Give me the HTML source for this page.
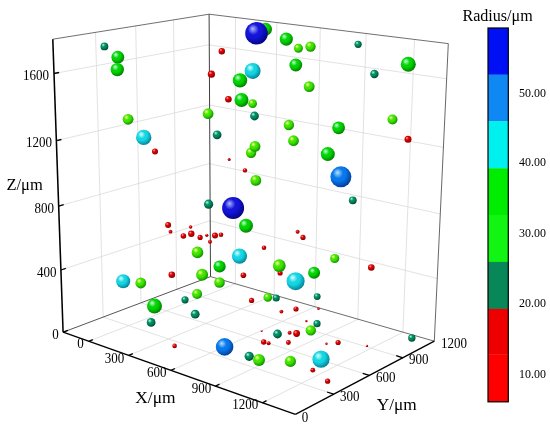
<!DOCTYPE html><html><head><meta charset="utf-8"><title>3D scatter</title>
<style>html,body{margin:0;padding:0;background:#fff}svg{display:block}text{font-family:"Liberation Serif","Times New Roman",serif;fill:#000}</style></head><body>
<svg width="550" height="427" viewBox="0 0 550 427">
<rect width="550" height="427" fill="#fff"/>
<defs>
<radialGradient id="gb" cx="0.42" cy="0.40" r="0.68" fx="0.33" fy="0.29"><stop offset="0" stop-color="#b0bcf8"/><stop offset="0.36" stop-color="#1414da"/><stop offset="0.52" stop-color="#1414da"/><stop offset="1" stop-color="#000070"/></radialGradient>
<radialGradient id="gm" cx="0.42" cy="0.40" r="0.68" fx="0.33" fy="0.29"><stop offset="0" stop-color="#b8e4ff"/><stop offset="0.36" stop-color="#0878ec"/><stop offset="0.52" stop-color="#0878ec"/><stop offset="1" stop-color="#003088"/></radialGradient>
<radialGradient id="gc" cx="0.42" cy="0.40" r="0.68" fx="0.33" fy="0.29"><stop offset="0" stop-color="#e0ffff"/><stop offset="0.36" stop-color="#14d6e2"/><stop offset="0.52" stop-color="#14d6e2"/><stop offset="1" stop-color="#007088"/></radialGradient>
<radialGradient id="gg" cx="0.42" cy="0.40" r="0.68" fx="0.33" fy="0.29"><stop offset="0" stop-color="#c8ffe0"/><stop offset="0.36" stop-color="#02d402"/><stop offset="0.52" stop-color="#02d402"/><stop offset="1" stop-color="#006c00"/></radialGradient>
<radialGradient id="gy" cx="0.42" cy="0.40" r="0.68" fx="0.33" fy="0.29"><stop offset="0" stop-color="#ffff90"/><stop offset="0.36" stop-color="#40e400"/><stop offset="0.52" stop-color="#40e400"/><stop offset="1" stop-color="#007c00"/></radialGradient>
<radialGradient id="gt" cx="0.42" cy="0.40" r="0.68" fx="0.33" fy="0.29"><stop offset="0" stop-color="#b0ffe0"/><stop offset="0.36" stop-color="#008c64"/><stop offset="0.52" stop-color="#008c64"/><stop offset="1" stop-color="#003820"/></radialGradient>
<radialGradient id="gr" cx="0.42" cy="0.40" r="0.68" fx="0.33" fy="0.29"><stop offset="0" stop-color="#ffb0b0"/><stop offset="0.36" stop-color="#d80000"/><stop offset="0.52" stop-color="#d80000"/><stop offset="1" stop-color="#6c0000"/></radialGradient>
</defs>
<g>
<line x1="103.2" y1="317.1" x2="95.5" y2="32.4" stroke="#d6d6d6" stroke-width="0.7" />
<line x1="141.0" y1="302.8" x2="135.7" y2="25.9" stroke="#d6d6d6" stroke-width="0.7" />
<line x1="176.7" y1="289.3" x2="173.5" y2="19.9" stroke="#d6d6d6" stroke-width="0.7" />
<line x1="60.9" y1="270.0" x2="210.2" y2="220.6" stroke="#d6d6d6" stroke-width="0.7" />
<line x1="210.2" y1="220.9" x2="437.3" y2="278.5" stroke="#d6d6d6" stroke-width="0.7" />
<line x1="58.7" y1="206.1" x2="209.9" y2="163.3" stroke="#d6d6d6" stroke-width="0.7" />
<line x1="209.9" y1="163.8" x2="440.3" y2="213.9" stroke="#d6d6d6" stroke-width="0.7" />
<line x1="56.4" y1="140.6" x2="209.6" y2="104.7" stroke="#d6d6d6" stroke-width="0.7" />
<line x1="209.6" y1="105.1" x2="443.4" y2="147.3" stroke="#d6d6d6" stroke-width="0.7" />
<line x1="54.0" y1="73.5" x2="209.3" y2="44.7" stroke="#d6d6d6" stroke-width="0.7" />
<line x1="209.3" y1="44.9" x2="446.6" y2="78.7" stroke="#d6d6d6" stroke-width="0.7" />
<line x1="235.4" y1="283.8" x2="235.5" y2="17.4" stroke="#d6d6d6" stroke-width="0.7" />
<line x1="88.7" y1="341.3" x2="235.5" y2="283.8" stroke="#d6d6d6" stroke-width="0.7" />
<line x1="274.2" y1="295.0" x2="276.8" y2="22.5" stroke="#d6d6d6" stroke-width="0.7" />
<line x1="128.7" y1="355.4" x2="274.5" y2="295.1" stroke="#d6d6d6" stroke-width="0.7" />
<line x1="315.0" y1="306.8" x2="320.3" y2="27.9" stroke="#d6d6d6" stroke-width="0.7" />
<line x1="170.9" y1="370.4" x2="315.3" y2="306.9" stroke="#d6d6d6" stroke-width="0.7" />
<line x1="357.8" y1="319.1" x2="366.1" y2="33.5" stroke="#d6d6d6" stroke-width="0.7" />
<line x1="215.5" y1="386.1" x2="358.1" y2="319.2" stroke="#d6d6d6" stroke-width="0.7" />
<line x1="402.9" y1="332.1" x2="414.5" y2="39.4" stroke="#d6d6d6" stroke-width="0.7" />
<line x1="262.5" y1="402.8" x2="403.1" y2="332.2" stroke="#d6d6d6" stroke-width="0.7" />
<line x1="103.2" y1="317.1" x2="333.6" y2="394.2" stroke="#d6d6d6" stroke-width="0.7" />
<line x1="141.0" y1="302.8" x2="369.4" y2="375.4" stroke="#d6d6d6" stroke-width="0.7" />
<line x1="176.7" y1="289.3" x2="402.9" y2="357.8" stroke="#d6d6d6" stroke-width="0.7" />
</g>
<line x1="52.8" y1="39.2" x2="209.1" y2="14.2" stroke="#404040" stroke-width="0.75" />
<line x1="209.1" y1="14.2" x2="448.3" y2="43.6" stroke="#404040" stroke-width="0.75" />
<line x1="434.3" y1="341.2" x2="448.3" y2="43.6" stroke="#404040" stroke-width="0.8" />
<line x1="210.5" y1="276.6" x2="209.1" y2="14.2" stroke="#404040" stroke-width="1" />
<line x1="63.1" y1="332.2" x2="210.5" y2="276.6" stroke="#383838" stroke-width="0.85" />
<line x1="210.5" y1="276.6" x2="434.3" y2="341.2" stroke="#484848" stroke-width="0.8" />
<line x1="63.1" y1="332.2" x2="52.8" y2="39.2" stroke="#000" stroke-width="1.55" />
<line x1="63.1" y1="332.2" x2="295.4" y2="414.4" stroke="#000" stroke-width="1.3" />
<line x1="295.4" y1="414.4" x2="434.3" y2="341.2" stroke="#000" stroke-width="1.3" />
<line x1="63.1" y1="332.2" x2="68.0" y2="330.4" stroke="#000" stroke-width="1.3" />
<line x1="60.9" y1="270.0" x2="65.8" y2="268.3" stroke="#000" stroke-width="1.3" />
<line x1="58.7" y1="206.1" x2="63.7" y2="204.7" stroke="#000" stroke-width="1.3" />
<line x1="56.4" y1="140.6" x2="61.4" y2="139.5" stroke="#000" stroke-width="1.3" />
<line x1="54.0" y1="73.5" x2="59.1" y2="72.5" stroke="#000" stroke-width="1.3" />
<line x1="88.7" y1="341.3" x2="92.9" y2="339.6" stroke="#000" stroke-width="1.3" />
<line x1="128.7" y1="355.4" x2="132.9" y2="353.7" stroke="#000" stroke-width="1.3" />
<line x1="170.9" y1="370.4" x2="175.0" y2="368.5" stroke="#000" stroke-width="1.3" />
<line x1="215.5" y1="386.1" x2="219.5" y2="384.2" stroke="#000" stroke-width="1.3" />
<line x1="262.5" y1="402.8" x2="266.5" y2="400.7" stroke="#000" stroke-width="1.3" />
<line x1="333.6" y1="394.2" x2="327.0" y2="392.0" stroke="#000" stroke-width="1.3" />
<line x1="369.4" y1="375.4" x2="362.7" y2="373.3" stroke="#000" stroke-width="1.3" />
<line x1="402.9" y1="357.8" x2="396.2" y2="355.7" stroke="#000" stroke-width="1.3" />
<circle cx="104.4" cy="46.4" r="3.9" fill="url(#gt)"/>
<circle cx="117.8" cy="57.2" r="6.4" fill="url(#gg)"/>
<circle cx="117.3" cy="69.6" r="6.7" fill="url(#gg)"/>
<circle cx="265.6" cy="29.2" r="6.4" fill="url(#gg)"/>
<circle cx="256.5" cy="33.3" r="11.3" fill="url(#gb)"/>
<circle cx="221.8" cy="51.2" r="3.2" fill="url(#gr)"/>
<circle cx="211.4" cy="74.2" r="3.6" fill="url(#gr)"/>
<circle cx="252.6" cy="70.9" r="8" fill="url(#gc)"/>
<circle cx="240" cy="80.4" r="7.2" fill="url(#gg)"/>
<circle cx="228.4" cy="99.2" r="3.3" fill="url(#gr)"/>
<circle cx="241.5" cy="100" r="7" fill="url(#gg)"/>
<circle cx="252.6" cy="103.6" r="4.4" fill="url(#gy)"/>
<circle cx="286.3" cy="39.1" r="6.6" fill="url(#gg)"/>
<circle cx="298.4" cy="48.2" r="4.5" fill="url(#gy)"/>
<circle cx="310.5" cy="46.6" r="5.2" fill="url(#gy)"/>
<circle cx="295.8" cy="65" r="6.4" fill="url(#gg)"/>
<circle cx="309.2" cy="86.6" r="5.4" fill="url(#gy)"/>
<circle cx="358.1" cy="44.3" r="3.6" fill="url(#gt)"/>
<circle cx="374.4" cy="74" r="4.2" fill="url(#gt)"/>
<circle cx="408.3" cy="64.3" r="7.5" fill="url(#gg)"/>
<circle cx="128.1" cy="119.3" r="5.4" fill="url(#gy)"/>
<circle cx="143.7" cy="137.4" r="7.7" fill="url(#gc)"/>
<circle cx="155" cy="151.5" r="3" fill="url(#gr)"/>
<circle cx="208.1" cy="113.7" r="5.4" fill="url(#gy)"/>
<circle cx="217.1" cy="134.8" r="4.4" fill="url(#gt)"/>
<circle cx="254.5" cy="116" r="4.4" fill="url(#gt)"/>
<circle cx="251.1" cy="152.8" r="5.2" fill="url(#gy)"/>
<circle cx="255" cy="146.4" r="5.4" fill="url(#gy)"/>
<circle cx="229.2" cy="159.5" r="1.5" fill="url(#gr)"/>
<circle cx="245" cy="170.4" r="2.2" fill="url(#gr)"/>
<circle cx="255.8" cy="180.4" r="5.4" fill="url(#gy)"/>
<circle cx="208.6" cy="204.2" r="4.6" fill="url(#gt)"/>
<circle cx="233.1" cy="208" r="11" fill="url(#gb)"/>
<circle cx="288.9" cy="125" r="5.2" fill="url(#gy)"/>
<circle cx="293.5" cy="140.7" r="5.4" fill="url(#gy)"/>
<circle cx="338.6" cy="127.8" r="6.4" fill="url(#gg)"/>
<circle cx="327.8" cy="154.1" r="7" fill="url(#gg)"/>
<circle cx="340.9" cy="176.8" r="10.5" fill="url(#gm)"/>
<circle cx="352.8" cy="200.3" r="3.9" fill="url(#gt)"/>
<circle cx="392.5" cy="119.5" r="5" fill="url(#gy)"/>
<circle cx="408" cy="139.3" r="3.5" fill="url(#gr)"/>
<circle cx="123.2" cy="281.2" r="7" fill="url(#gc)"/>
<circle cx="246" cy="225.8" r="7" fill="url(#gg)"/>
<circle cx="168.1" cy="225" r="3" fill="url(#gr)"/>
<circle cx="170.5" cy="231.7" r="1.9" fill="url(#gr)"/>
<circle cx="190.6" cy="227" r="1.7" fill="url(#gr)"/>
<circle cx="183.4" cy="236" r="2.8" fill="url(#gr)"/>
<circle cx="191.3" cy="233.8" r="3.2" fill="url(#gr)"/>
<circle cx="200.1" cy="237.4" r="2.6" fill="url(#gr)"/>
<circle cx="206.8" cy="235.3" r="1.6" fill="url(#gr)"/>
<circle cx="215" cy="235.6" r="3" fill="url(#gr)"/>
<circle cx="221" cy="234.8" r="2.3" fill="url(#gr)"/>
<circle cx="210" cy="241.8" r="2" fill="url(#gr)"/>
<circle cx="264" cy="247.8" r="2.3" fill="url(#gr)"/>
<circle cx="197.5" cy="252.4" r="5.8" fill="url(#gy)"/>
<circle cx="239.5" cy="256.1" r="7.6" fill="url(#gc)"/>
<circle cx="219.6" cy="266.5" r="6.1" fill="url(#gg)"/>
<circle cx="202.1" cy="274.8" r="6" fill="url(#gy)"/>
<circle cx="171.8" cy="274.7" r="3.3" fill="url(#gr)"/>
<circle cx="243.4" cy="275.2" r="2.8" fill="url(#gr)"/>
<circle cx="219.5" cy="282.5" r="5.3" fill="url(#gy)"/>
<circle cx="140.8" cy="283" r="5.4" fill="url(#gy)"/>
<circle cx="197.1" cy="294" r="5" fill="url(#gy)"/>
<circle cx="185" cy="299.8" r="3.6" fill="url(#gt)"/>
<circle cx="154.5" cy="306" r="7.5" fill="url(#gg)"/>
<circle cx="251.6" cy="300.4" r="2.6" fill="url(#gr)"/>
<circle cx="267.8" cy="297.4" r="4.3" fill="url(#gy)"/>
<circle cx="297.6" cy="231.7" r="2" fill="url(#gr)"/>
<circle cx="303" cy="237.4" r="2.6" fill="url(#gr)"/>
<circle cx="334.7" cy="258.5" r="4.6" fill="url(#gy)"/>
<circle cx="371.3" cy="267.5" r="3.3" fill="url(#gr)"/>
<circle cx="280.1" cy="273" r="2.6" fill="url(#gr)"/>
<circle cx="279.3" cy="265.7" r="6.4" fill="url(#gy)"/>
<circle cx="314.1" cy="272.7" r="6" fill="url(#gg)"/>
<circle cx="295.6" cy="281.2" r="9" fill="url(#gc)"/>
<circle cx="276.2" cy="298" r="3.6" fill="url(#gt)"/>
<circle cx="317.2" cy="296.6" r="3.4" fill="url(#gt)"/>
<circle cx="296" cy="309" r="2.6" fill="url(#gr)"/>
<circle cx="318.5" cy="308.8" r="1.3" fill="url(#gr)"/>
<circle cx="195.2" cy="314.2" r="4.4" fill="url(#gt)"/>
<circle cx="151.1" cy="322.4" r="4.4" fill="url(#gt)"/>
<circle cx="174.6" cy="345.9" r="2.3" fill="url(#gr)"/>
<circle cx="224.6" cy="346.9" r="8.8" fill="url(#gm)"/>
<circle cx="249.2" cy="356.3" r="4.6" fill="url(#gt)"/>
<circle cx="259" cy="359.9" r="6" fill="url(#gy)"/>
<circle cx="261.7" cy="331" r="1" fill="url(#gr)"/>
<circle cx="263.7" cy="342" r="2.7" fill="url(#gr)"/>
<circle cx="268.6" cy="343.2" r="2" fill="url(#gr)"/>
<circle cx="281.4" cy="311.6" r="1.9" fill="url(#gr)"/>
<circle cx="306.4" cy="321.1" r="1.2" fill="url(#gr)"/>
<circle cx="317" cy="323.7" r="3.6" fill="url(#gt)"/>
<circle cx="310.8" cy="330.4" r="5.2" fill="url(#gy)"/>
<circle cx="277.5" cy="334" r="4.4" fill="url(#gt)"/>
<circle cx="289.6" cy="332.7" r="2" fill="url(#gr)"/>
<circle cx="296.6" cy="333.5" r="3.4" fill="url(#gr)"/>
<circle cx="288.4" cy="342.5" r="2.4" fill="url(#gr)"/>
<circle cx="326.5" cy="343.8" r="1.2" fill="url(#gr)"/>
<circle cx="338.1" cy="342.5" r="2.6" fill="url(#gr)"/>
<circle cx="367" cy="345.9" r="1.2" fill="url(#gr)"/>
<circle cx="321" cy="359.2" r="8.6" fill="url(#gc)"/>
<circle cx="290.4" cy="361.4" r="5.6" fill="url(#gy)"/>
<circle cx="312.8" cy="370.2" r="2.4" fill="url(#gr)"/>
<circle cx="327.6" cy="381.2" r="2.6" fill="url(#gr)"/>
<circle cx="411.8" cy="338" r="3.7" fill="url(#gt)"/>
<text transform="translate(58.8,339.2) scale(0.88,1)" font-size="14.8" text-anchor="end">0</text>
<text transform="translate(56.6,276.9) scale(0.88,1)" font-size="14.8" text-anchor="end">400</text>
<text transform="translate(54.1,213.1) scale(0.88,1)" font-size="14.8" text-anchor="end">800</text>
<text transform="translate(52.1,147.4) scale(0.88,1)" font-size="14.8" text-anchor="end">1200</text>
<text transform="translate(49,79.6) scale(0.88,1)" font-size="14.8" text-anchor="end">1600</text>
<text transform="translate(83.8,348.1) scale(0.88,1)" font-size="14.8" text-anchor="end">0</text>
<text transform="translate(124.3,362.5) scale(0.88,1)" font-size="14.8" text-anchor="end">300</text>
<text transform="translate(166.6,377.0) scale(0.88,1)" font-size="14.8" text-anchor="end">600</text>
<text transform="translate(211.2,392.7) scale(0.88,1)" font-size="14.8" text-anchor="end">900</text>
<text transform="translate(258.3,409.3) scale(0.88,1)" font-size="14.8" text-anchor="end">1200</text>
<text transform="translate(301.8,421.8) scale(0.88,1)" font-size="14.8" text-anchor="start">0</text>
<text transform="translate(339.9,401.1) scale(0.88,1)" font-size="14.8" text-anchor="start">300</text>
<text transform="translate(376,382.2) scale(0.88,1)" font-size="14.8" text-anchor="start">600</text>
<text transform="translate(409,364.3) scale(0.88,1)" font-size="14.8" text-anchor="start">900</text>
<text transform="translate(440.9,347.9) scale(0.88,1)" font-size="14.8" text-anchor="start">1200</text>
<text x="6.4" y="190.2" font-size="16.5" text-anchor="start">Z/μm</text>
<text x="135.3" y="403.2" font-size="17.4" text-anchor="start">X/μm</text>
<text x="376.7" y="410.0" font-size="17.3" text-anchor="start">Y/μm</text>
<text x="462.4" y="20.5" font-size="16.1" text-anchor="start">Radius/μm</text>
<rect x="488" y="28" width="20.3" height="46.9" fill="#0010f4"/>
<rect x="488" y="74.6" width="20.3" height="46.9" fill="#1088f4"/>
<rect x="488" y="121.2" width="20.3" height="47.4" fill="#00f0f0"/>
<rect x="488" y="168.3" width="20.3" height="47.0" fill="#00ec00"/>
<rect x="488" y="215" width="20.3" height="47.2" fill="#12f412"/>
<rect x="488" y="261.9" width="20.3" height="47.3" fill="#088858"/>
<rect x="488" y="308.9" width="20.3" height="45.9" fill="#ee0000"/>
<rect x="488" y="354.5" width="20.3" height="47.6" fill="#ff0000"/>
<rect x="488" y="28" width="20.3" height="373.8" fill="none" stroke="#000" stroke-width="1.2"/>
<text transform="translate(519.0,96.6) scale(0.885,1)" font-size="13.5" text-anchor="start">50.00</text>
<text transform="translate(519.0,166.4) scale(0.885,1)" font-size="13.5" text-anchor="start">40.00</text>
<text transform="translate(519.0,237.4) scale(0.885,1)" font-size="13.5" text-anchor="start">30.00</text>
<text transform="translate(519.0,307.4) scale(0.885,1)" font-size="13.5" text-anchor="start">20.00</text>
<text transform="translate(519.0,378.4) scale(0.885,1)" font-size="13.5" text-anchor="start">10.00</text>
</svg></body></html>
